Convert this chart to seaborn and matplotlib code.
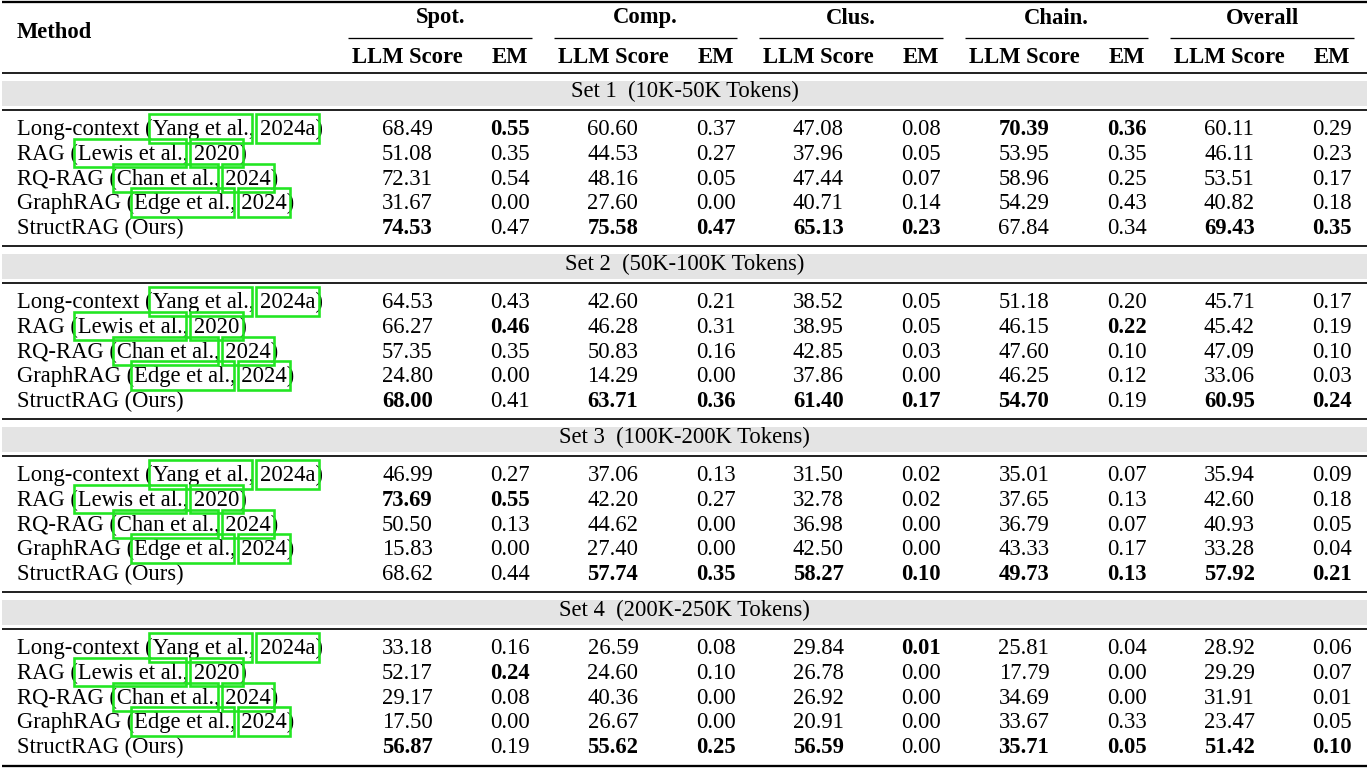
import matplotlib
matplotlib.use("Agg")
import matplotlib.pyplot as plt
from matplotlib.patches import Rectangle
import pandas as pd
import seaborn as sns

# ---------------- data ----------------
methods = ["Long-context", "RAG", "RQ-RAG", "GraphRAG", "StructRAG (Ours)"]
cite_authors = ["Yang et al.", "Lewis et al.", "Chan et al.", "Edge et al.", None]
cite_years = ["2024a", "2020", "2024", "2024", None]
task_groups = ["Spot.", "Comp.", "Clus.", "Chain.", "Overall"]
metric_names = ["LLM Score", "EM"]
set_labels = ["Set 1  (10K-50K Tokens)", "Set 2  (50K-100K Tokens)",
              "Set 3  (100K-200K Tokens)", "Set 4  (200K-250K Tokens)"]

# columns: Spot LLM, Spot EM, Comp LLM, Comp EM, Clus LLM, Clus EM, Chain LLM, Chain EM, Overall LLM, Overall EM
set1_scores = [
    [68.49, 0.55, 60.60, 0.37, 47.08, 0.08, 70.39, 0.36, 60.11, 0.29],
    [51.08, 0.35, 44.53, 0.27, 37.96, 0.05, 53.95, 0.35, 46.11, 0.23],
    [72.31, 0.54, 48.16, 0.05, 47.44, 0.07, 58.96, 0.25, 53.51, 0.17],
    [31.67, 0.00, 27.60, 0.00, 40.71, 0.14, 54.29, 0.43, 40.82, 0.18],
    [74.53, 0.47, 75.58, 0.47, 65.13, 0.23, 67.84, 0.34, 69.43, 0.35],
]
set2_scores = [
    [64.53, 0.43, 42.60, 0.21, 38.52, 0.05, 51.18, 0.20, 45.71, 0.17],
    [66.27, 0.46, 46.28, 0.31, 38.95, 0.05, 46.15, 0.22, 45.42, 0.19],
    [57.35, 0.35, 50.83, 0.16, 42.85, 0.03, 47.60, 0.10, 47.09, 0.10],
    [24.80, 0.00, 14.29, 0.00, 37.86, 0.00, 46.25, 0.12, 33.06, 0.03],
    [68.00, 0.41, 63.71, 0.36, 61.40, 0.17, 54.70, 0.19, 60.95, 0.24],
]
set3_scores = [
    [46.99, 0.27, 37.06, 0.13, 31.50, 0.02, 35.01, 0.07, 35.94, 0.09],
    [73.69, 0.55, 42.20, 0.27, 32.78, 0.02, 37.65, 0.13, 42.60, 0.18],
    [50.50, 0.13, 44.62, 0.00, 36.98, 0.00, 36.79, 0.07, 40.93, 0.05],
    [15.83, 0.00, 27.40, 0.00, 42.50, 0.00, 43.33, 0.17, 33.28, 0.04],
    [68.62, 0.44, 57.74, 0.35, 58.27, 0.10, 49.73, 0.13, 57.92, 0.21],
]
set4_scores = [
    [33.18, 0.16, 26.59, 0.08, 29.84, 0.01, 25.81, 0.04, 28.92, 0.06],
    [52.17, 0.24, 24.60, 0.10, 26.78, 0.00, 17.79, 0.00, 29.29, 0.07],
    [29.17, 0.08, 40.36, 0.00, 26.92, 0.00, 34.69, 0.00, 31.91, 0.01],
    [17.50, 0.00, 26.67, 0.00, 20.91, 0.00, 33.67, 0.33, 23.47, 0.05],
    [56.87, 0.19, 55.62, 0.25, 56.59, 0.00, 35.71, 0.05, 51.42, 0.10],
]
set1_bold = [
    [0, 1, 0, 0, 0, 0, 1, 1, 0, 0],
    [0, 0, 0, 0, 0, 0, 0, 0, 0, 0],
    [0, 0, 0, 0, 0, 0, 0, 0, 0, 0],
    [0, 0, 0, 0, 0, 0, 0, 0, 0, 0],
    [1, 0, 1, 1, 1, 1, 0, 0, 1, 1],
]
set2_bold = [
    [0, 0, 0, 0, 0, 0, 0, 0, 0, 0],
    [0, 1, 0, 0, 0, 0, 0, 1, 0, 0],
    [0, 0, 0, 0, 0, 0, 0, 0, 0, 0],
    [0, 0, 0, 0, 0, 0, 0, 0, 0, 0],
    [1, 0, 1, 1, 1, 1, 1, 0, 1, 1],
]
set3_bold = [
    [0, 0, 0, 0, 0, 0, 0, 0, 0, 0],
    [1, 1, 0, 0, 0, 0, 0, 0, 0, 0],
    [0, 0, 0, 0, 0, 0, 0, 0, 0, 0],
    [0, 0, 0, 0, 0, 0, 0, 0, 0, 0],
    [0, 0, 1, 1, 1, 1, 1, 1, 1, 1],
]
set4_bold = [
    [0, 0, 0, 0, 0, 1, 0, 0, 0, 0],
    [0, 1, 0, 0, 0, 0, 0, 0, 0, 0],
    [0, 0, 0, 0, 0, 0, 0, 0, 0, 0],
    [0, 0, 0, 0, 0, 0, 0, 0, 0, 0],
    [1, 0, 1, 1, 1, 0, 1, 1, 1, 1],
]

all_scores = [set1_scores, set2_scores, set3_scores, set4_scores]
all_bold = [set1_bold, set2_bold, set3_bold, set4_bold]

rows = []
for s, (sc, bd) in enumerate(zip(all_scores, all_bold)):
    for m in range(len(methods)):
        for c in range(10):
            rows.append(dict(set=s, method=m, col=c, value=sc[m][c], bold=bool(bd[m][c])))
df = pd.DataFrame(rows)

# ---------------- style ----------------
sns.set_theme(style="white")
plt.rcParams["font.family"] = ["Liberation Serif", "DejaVu Serif"]
plt.rcParams["text.color"] = "black"

W, H = 1370, 770
fig = plt.figure(figsize=(13.7, 7.7), dpi=100)
ax = fig.add_axes([0, 0, 1, 1])
ax.set_xlim(0, W)
ax.set_ylim(H, 0)
ax.axis("off")

PT = 0.72  # points per pixel at 100 dpi
FS = 16.3
GREEN = "#22e622"
BAND = "#e4e4e4"

L, R = 2, 1367
GSTEP = 205.5
llm_x = [407.4 + GSTEP * g for g in range(5)]
em_x = [510.2 + GSTEP * g for g in range(5)]
col_x = [v for g in range(5) for v in (llm_x[g], em_x[g])]
cmid_l = [348.5 + GSTEP * g for g in range(5)]
cmid_r = [532.0 + GSTEP * g for g in range(5)]

BLOCK = 173.0
ROWSTEP = 24.8

# rules
ax.hlines(2.0, L, R, color="black", lw=2.3 * PT)
ax.hlines(765.5, L, R, color="black", lw=2.3 * PT)
for g in range(5):
    ax.hlines(37.5, cmid_l[g], cmid_r[g], color="black", lw=1.3 * PT)
for k in range(4):
    off = BLOCK * k
    ax.hlines(73.0 + off, L, R, color="black", lw=1.7 * PT)
    ax.add_patch(Rectangle((L, 81.0 + off), R - L, 24.5, facecolor=BAND, edgecolor="none", zorder=0))
    ax.hlines(110.0 + off, L, R, color="black", lw=1.7 * PT)
    ax.text((L + R) / 2, 97.5 + off, set_labels[k], ha="center", va="baseline", fontsize=FS,
            color="black")

# header
ax.text(17, 38.3, "Method", ha="left", va="baseline", fontsize=FS, fontweight="bold", color="black")
for g, name in enumerate(task_groups):
    ax.text((cmid_l[g] + cmid_r[g]) / 2, 23.5, name, ha="center", va="baseline",
            fontsize=FS, fontweight="bold", color="black")
    ax.text(llm_x[g], 63.0, metric_names[0], ha="center", va="baseline",
            fontsize=FS, fontweight="bold", color="black")
    ax.text(em_x[g], 63.0, metric_names[1], ha="center", va="baseline",
            fontsize=FS, fontweight="bold", color="black")

renderer = fig.canvas.get_renderer()


def ink_width(s):
    t = ax.text(17, 100, s, fontsize=FS, ha="left", va="baseline")
    bb = t.get_window_extent(renderer)
    t.remove()
    return bb.width


# method names with citation boxes
for k in range(4):
    for i, m in enumerate(methods):
        yb = 135.0 + ROWSTEP * i + BLOCK * k
        a, yr = cite_authors[i], cite_years[i]
        full = f"{m} ({a}, {yr})" if a else m
        ax.text(17, yb, full, ha="left", va="baseline", fontsize=FS, color="black")
        if a:
            a_end = 17 + ink_width(f"{m} ({a}")
            a_start = a_end - ink_width(a)
            y_end = 17 + ink_width(f"{m} ({a}, {yr}")
            y_start = y_end - ink_width(yr)
            for x0, x1 in ((a_start, a_end), (y_start, y_end)):
                ax.add_patch(Rectangle((x0 - 3.5, yb - 21.0), (x1 - x0) + 7.0, 28.5,
                                       facecolor="none", edgecolor=GREEN, lw=2.6 * PT, zorder=5))

# values
for _, r in df.iterrows():
    yb = 135.0 + ROWSTEP * r["method"] + BLOCK * r["set"]
    ax.text(col_x[int(r["col"])], yb, f"{r['value']:.2f}", ha="center", va="baseline",
            fontsize=FS, fontweight="bold" if r["bold"] else "normal", color="black")

fig.savefig("out.png", dpi=100)
